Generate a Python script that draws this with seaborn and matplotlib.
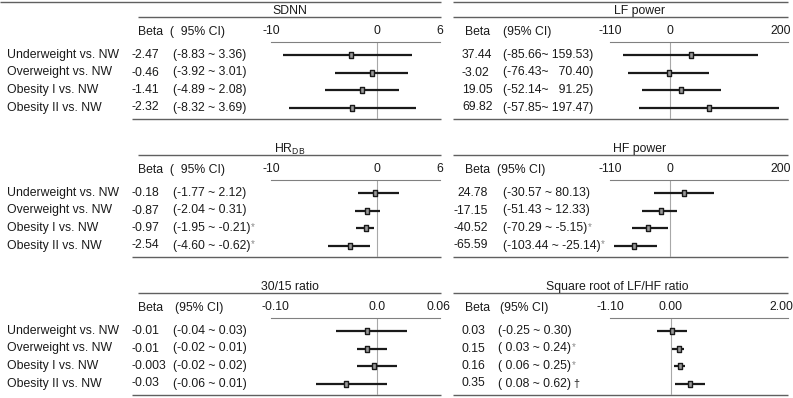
import pandas as pd
import seaborn as sns
import matplotlib.pyplot as plt

# figure size in pixels (dpi 100)
W, H = 793, 398

groups = ["Underweight vs. NW", "Overweight vs. NW", "Obesity I vs. NW", "Obesity II vs. NW"]

# SDNN
sdnn_beta = [-2.47, -0.46, -1.41, -2.32]
sdnn_lo = [-8.83, -3.92, -4.89, -8.32]
sdnn_hi = [3.36, 3.01, 2.08, 3.69]
sdnn_beta_txt = ["-2.47", "-0.46", "-1.41", "-2.32"]
sdnn_ci_txt = ["(-8.83 ~ 3.36)", "(-3.92 ~ 3.01)", "(-4.89 ~ 2.08)", "(-8.32 ~ 3.69)"]
sdnn_flags = ["", "", "", ""]
sdnn_ticks = [-10, 0, 6]
sdnn_ticklabels = ["-10", "0", "6"]

# LF power
lf_beta = [37.44, -3.02, 19.05, 69.82]
lf_lo = [-85.66, -76.43, -52.14, -57.85]
lf_hi = [159.53, 70.40, 91.25, 197.47]
lf_beta_txt = ["37.44", "-3.02", "19.05", "69.82"]
lf_ci_txt = ["(-85.66~ 159.53)", "(-76.43~   70.40)", "(-52.14~   91.25)", "(-57.85~ 197.47)"]
lf_flags = ["", "", "", ""]
lf_ticks = [-110, 0, 200]
lf_ticklabels = ["-110", "0", "200"]

# HR_DB
hrdb_beta = [-0.18, -0.87, -0.97, -2.54]
hrdb_lo = [-1.77, -2.04, -1.95, -4.60]
hrdb_hi = [2.12, 0.31, -0.21, -0.62]
hrdb_beta_txt = ["-0.18", "-0.87", "-0.97", "-2.54"]
hrdb_ci_txt = ["(-1.77 ~ 2.12)", "(-2.04 ~ 0.31)", "(-1.95 ~ -0.21)", "(-4.60 ~ -0.62)"]
hrdb_flags = ["", "", "*", "*"]
hrdb_ticks = [-10, 0, 6]
hrdb_ticklabels = ["-10", "0", "6"]

# HF power
hf_beta = [24.78, -17.15, -40.52, -65.59]
hf_lo = [-30.57, -51.43, -70.29, -103.44]
hf_hi = [80.13, 12.33, -5.15, -25.14]
hf_beta_txt = ["24.78", "-17.15", "-40.52", "-65.59"]
hf_ci_txt = ["(-30.57 ~ 80.13)", "(-51.43 ~ 12.33)", "(-70.29 ~ -5.15)", "(-103.44 ~ -25.14)"]
hf_flags = ["", "", "*", "*"]
hf_ticks = [-110, 0, 200]
hf_ticklabels = ["-110", "0", "200"]

# 30/15 ratio
r3015_beta = [-0.01, -0.01, -0.003, -0.03]
r3015_lo = [-0.04, -0.02, -0.02, -0.06]
r3015_hi = [0.03, 0.01, 0.02, 0.01]
r3015_beta_txt = ["-0.01", "-0.01", "-0.003", "-0.03"]
r3015_ci_txt = ["(-0.04 ~ 0.03)", "(-0.02 ~ 0.01)", "(-0.02 ~ 0.02)", "(-0.06 ~ 0.01)"]
r3015_flags = ["", "", "", ""]
r3015_ticks = [-0.10, 0.0, 0.06]
r3015_ticklabels = ["-0.10", "0.0", "0.06"]

# Square root of LF/HF ratio
sq_beta = [0.03, 0.15, 0.16, 0.35]
sq_lo = [-0.25, 0.03, 0.06, 0.08]
sq_hi = [0.30, 0.24, 0.25, 0.62]
sq_beta_txt = ["0.03", "0.15", "0.16", "0.35"]
sq_ci_txt = ["(-0.25 ~ 0.30)", "( 0.03 ~ 0.24)", "( 0.06 ~ 0.25)", "( 0.08 ~ 0.62)"]
sq_flags = ["", "*", "*", " \u2020"]
sq_ticks = [-1.10, 0.0, 2.00]
sq_ticklabels = ["-1.10", "0.00", "2.00"]

sns.set_theme(style="white")
plt.rcParams["font.family"] = ["Liberation Sans", "DejaVu Sans"]
plt.rcParams["mathtext.fontset"] = "custom"
plt.rcParams["mathtext.rm"] = "Liberation Sans"
FS = 8.8
INK = "#1a1a1a"
RULE = "#606060"

# column layouts (pixel x positions)
left_col = dict(beta_x=132, beta_ha="left", head_beta=138, head_ci=169, ci_x=173,
                rule_x=(138, 441), bottom_x=(132, 441), top_x=(0, 441), ax_x=(271, 440), title_x=290)
right_col = dict(beta_x=462, beta_ha="left", head_beta=465, head_ci=503, ci_x=503,
                 rule_x=(453, 788), bottom_x=(453, 788), top_x=(453, 788), ax_x=(610, 788), title_x=640)

panels = [
    dict(col=left_col, off=0, title="SDNN", head="Beta  (  95% CI)", xlim=(-10, 6),
         beta=sdnn_beta, lo=sdnn_lo, hi=sdnn_hi, btxt=sdnn_beta_txt, ctxt=sdnn_ci_txt,
         flags=sdnn_flags, ticks=sdnn_ticks, tl=sdnn_ticklabels),
    dict(col=right_col, off=0, title="LF power", head="Beta", xlim=(-110, 214),
         beta=lf_beta, lo=lf_lo, hi=lf_hi, btxt=lf_beta_txt, ctxt=lf_ci_txt,
         flags=lf_flags, ticks=lf_ticks, tl=lf_ticklabels),
    dict(col=left_col, off=138, title=r"HR$_{\mathrm{DB}}$", head="Beta  (  95% CI)", xlim=(-10, 6),
         beta=hrdb_beta, lo=hrdb_lo, hi=hrdb_hi, btxt=hrdb_beta_txt, ctxt=hrdb_ci_txt,
         flags=hrdb_flags, ticks=hrdb_ticks, tl=hrdb_ticklabels),
    dict(col=right_col, off=138, title="HF power", head="Beta", xlim=(-110, 214),
         beta=hf_beta, lo=hf_lo, hi=hf_hi, btxt=hf_beta_txt, ctxt=hf_ci_txt,
         flags=hf_flags, ticks=hf_ticks, tl=hf_ticklabels, beta_x=488, beta_ha="right", head_ci=497),
    dict(col=left_col, off=276, title="30/15 ratio", head="Beta", xlim=(-0.104, 0.062),
         beta=r3015_beta, lo=r3015_lo, hi=r3015_hi, btxt=r3015_beta_txt, ctxt=r3015_ci_txt,
         flags=r3015_flags, ticks=r3015_ticks, tl=r3015_ticklabels, head_ci=175),
    dict(col=right_col, off=276, title="Square root of LF/HF ratio", head="Beta", xlim=(-1.1, 2.12),
         beta=sq_beta, lo=sq_lo, hi=sq_hi, btxt=sq_beta_txt, ctxt=sq_ci_txt,
         flags=sq_flags, ticks=sq_ticks, tl=sq_ticklabels, ci_x=498, head_ci=500, title_x=617),
]

# vertical layout inside each panel (pixels from panel offset)
Y_TOP, Y_TITLE, Y_TRULE, Y_HEAD, Y_TICK, ROW0, ROWSP, Y_BOT = 2, 11, 17, 32, 42, 55, 17.5, 119

# small upright box used as the point-estimate marker
box = [(-0.65, -1), (0.65, -1), (0.65, 1), (-0.65, 1), (-0.65, -1)]

fig = plt.figure(figsize=(W / 100, H / 100), dpi=100)
bg = fig.add_axes([0, 0, 1, 1], zorder=0)
bg.set_xlim(0, W)
bg.set_ylim(H, 0)
bg.axis("off")
renderer = fig.canvas.get_renderer()


def right_edge(t):
    bb = t.get_window_extent(renderer)
    return bg.transData.inverted().transform((bb.x1, bb.y0))[0]


for p in panels:
    c = dict(p["col"])
    for k in ("beta_x", "beta_ha", "head_ci", "ci_x", "title_x"):
        if k in p:
            c[k] = p[k]
    off = p["off"]

    # horizontal rules
    if off == 0:
        bg.hlines(off + Y_TOP, *c["top_x"], color=RULE, lw=1.0)
    bg.hlines(off + Y_TRULE, *c["rule_x"], color=RULE, lw=1.0)
    bg.hlines(off + Y_BOT, *c["bottom_x"], color=RULE, lw=1.0)

    bg.text(c["title_x"], off + Y_TITLE, p["title"], ha="center", va="center", fontsize=FS, color=INK)
    if p["head"] == "Beta":
        bg.text(c["head_beta"], off + Y_HEAD, "Beta", ha="left", va="center", fontsize=FS, color=INK)
        bg.text(c["head_ci"], off + Y_HEAD, "(95% CI)", ha="left", va="center", fontsize=FS, color=INK)
    else:
        bg.text(c["head_beta"], off + Y_HEAD, p["head"], ha="left", va="center", fontsize=FS, color=INK)

    for i in range(4):
        y = off + ROW0 + i * ROWSP
        if p["col"] is left_col:
            bg.text(7, y, groups[i], ha="left", va="center", fontsize=FS, color=INK)
        bt = bg.text(c["beta_x"], y, p["btxt"][i], ha=c["beta_ha"], va="center", fontsize=FS, color=INK)
        cx = max(c["ci_x"], right_edge(bt) + 2)
        ct = bg.text(cx, y, p["ctxt"][i], ha="left", va="center", fontsize=FS, color=INK)
        flag = p["flags"][i]
        if flag == "*":
            bg.text(right_edge(ct) + 0.5, y - 1, "*", ha="left", va="center", fontsize=7, color="#8a8a8a")
        elif flag:
            bg.text(right_edge(ct), y, flag, ha="left", va="center", fontsize=FS - 1, color=INK)

    # forest plot
    x0, x1 = c["ax_x"]
    y0, y1 = off + Y_TICK, off + Y_BOT
    ax = fig.add_axes([x0 / W, 1 - y1 / H, (x1 - x0) / W, (y1 - y0) / H], zorder=2)
    ax.patch.set_alpha(0)
    df = pd.DataFrame({"row": range(4), "beta": p["beta"], "lo": p["lo"], "hi": p["hi"]})
    ax.axvline(0, color="#a8a8a8", lw=0.8, zorder=1)
    ax.hlines(df["row"], df["lo"], df["hi"], color=INK, lw=1.6, zorder=2)
    sns.scatterplot(data=df, x="beta", y="row", marker=box, s=22, color="#9a9a9a",
                    edgecolor=INK, linewidth=1.0, ax=ax, zorder=3)
    ax.set_xlim(*p["xlim"])
    ax.set_ylim((Y_BOT - ROW0) / ROWSP, (Y_TICK - ROW0) / ROWSP)
    ax.xaxis.tick_top()
    ax.set_xticks(p["ticks"])
    ax.set_xticklabels(p["tl"])
    ax.tick_params(axis="x", length=0, pad=3.5, labelsize=FS, colors=INK)
    ax.set_yticks([])
    ax.set_xlabel("")
    ax.set_ylabel("")
    for s in ("left", "right", "bottom"):
        ax.spines[s].set_visible(False)
    ax.spines["top"].set_color("#808080")
    ax.spines["top"].set_linewidth(0.8)

fig.savefig("out.png", dpi=100, facecolor="white")
